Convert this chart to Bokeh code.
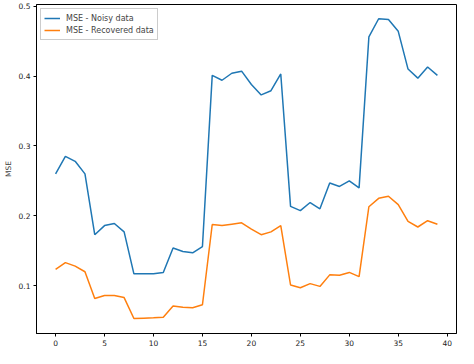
from bokeh.plotting import figure
from bokeh.models import FixedTicker, Range1d, Legend, LegendItem
from bokeh.embed import file_html
from bokeh.resources import INLINE

x = list(range(40))
noisy = [0.260, 0.285, 0.278, 0.260, 0.173, 0.186, 0.189, 0.177, 0.117, 0.117,
         0.117, 0.119, 0.154, 0.149, 0.147, 0.156, 0.401, 0.394, 0.404, 0.407,
         0.388, 0.373, 0.379, 0.403, 0.2135, 0.2075, 0.219, 0.210, 0.247, 0.242,
         0.250, 0.240, 0.456, 0.482, 0.481, 0.464, 0.410, 0.397, 0.413, 0.401]
recovered = [0.1234, 0.133, 0.128, 0.120, 0.0816, 0.086, 0.086, 0.083, 0.053, 0.0535,
             0.054, 0.055, 0.071, 0.069, 0.0685, 0.0727, 0.1876, 0.186, 0.188, 0.190,
             0.181, 0.173, 0.177, 0.186, 0.101, 0.097, 0.103, 0.099, 0.1155, 0.115,
             0.119, 0.113, 0.213, 0.225, 0.228, 0.216, 0.192, 0.184, 0.193, 0.188]
x_ticks = [0, 5, 10, 15, 20, 25, 30, 35, 40]
y_ticks = [0.1, 0.2, 0.3, 0.4, 0.5]
labels = ["MSE - Noisy data", "MSE - Recovered data"]
colors = ["#1f77b4", "#ff7f0e"]

p = figure(width=458, height=348, output_backend="svg", toolbar_location=None,
           x_range=Range1d(-1.95, 40.95), y_range=Range1d(0.0316, 0.5024),
           min_border_left=0, min_border_right=2, min_border_top=4, min_border_bottom=0)
p.background_fill_color = "white"
p.border_fill_color = "white"
p.outline_line_color = "black"
p.outline_line_width = 1
p.grid.visible = False

r1 = p.line(x, noisy, line_color=colors[0], line_width=1.5)
r2 = p.line(x, recovered, line_color=colors[1], line_width=1.5)

for ax in (p.xaxis[0], p.yaxis[0]):
    ax.major_label_text_font = "DejaVu Sans"
    ax.major_label_text_font_size = "7.5px"
    ax.major_label_text_color = "#222222"
    ax.major_tick_out = 3
    ax.major_tick_in = 0
    ax.minor_tick_out = 0
    ax.minor_tick_in = 0
    ax.axis_line_color = "black"
    ax.major_tick_line_color = "black"
    ax.major_label_standoff = 3

p.xaxis.ticker = FixedTicker(ticks=x_ticks)
p.yaxis.ticker = FixedTicker(ticks=y_ticks)
p.yaxis.axis_label = "MSE"
p.yaxis.axis_label_text_font = "DejaVu Sans"
p.yaxis.axis_label_text_font_size = "7.5px"
p.yaxis.axis_label_text_font_style = "normal"
p.yaxis.axis_label_standoff = 3

legend = Legend(items=[LegendItem(label=labels[0], renderers=[r1]),
                       LegendItem(label=labels[1], renderers=[r2])],
                location="top_left")
legend.label_text_font = "DejaVu Sans"
legend.label_text_font_size = "8px"
legend.label_height = 12
legend.glyph_height = 12
legend.glyph_width = 16
legend.spacing = 0
legend.padding = 3
legend.margin = 4
legend.border_line_color = "#cccccc"
legend.border_line_alpha = 1
legend.background_fill_alpha = 0.8
legend.label_standoff = 6
p.add_layout(legend)

open("out.html", "w").write(file_html(p, INLINE))
